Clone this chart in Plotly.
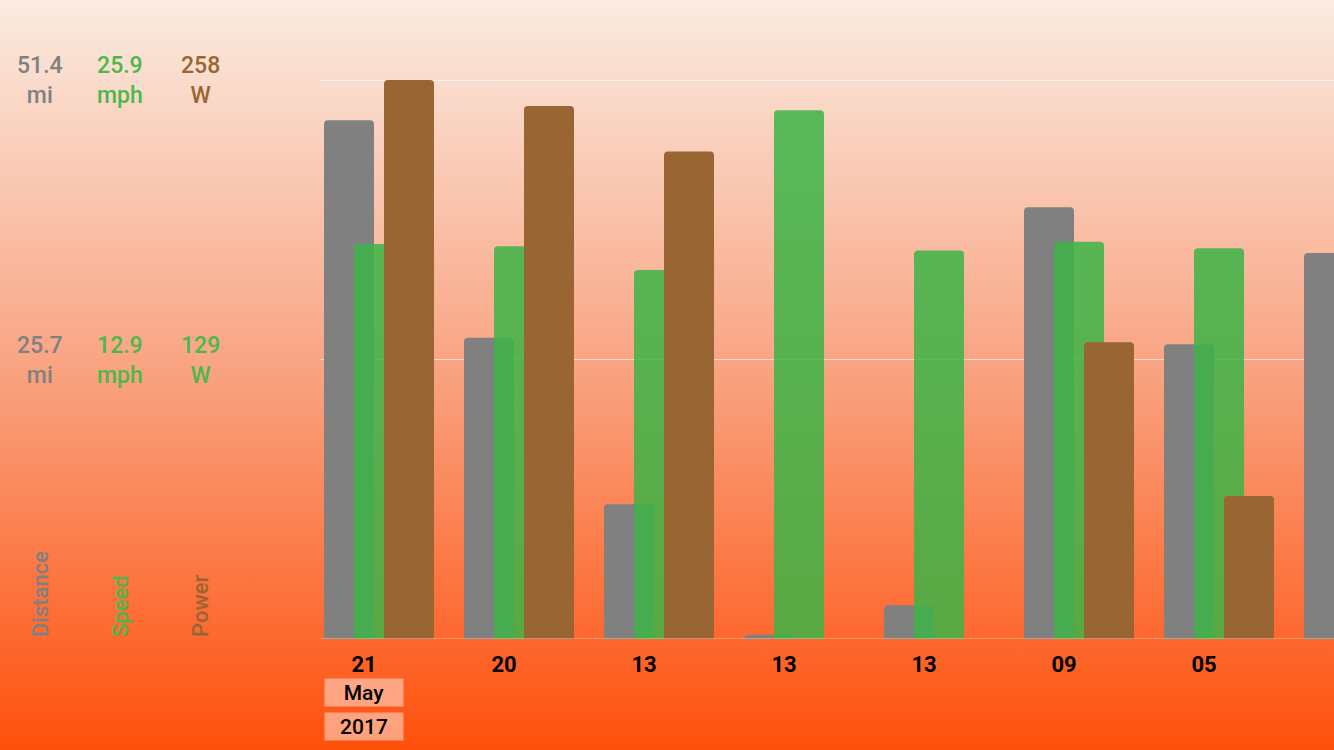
import plotly.graph_objects as go

days = ["21", "20", "13", "13", "13", "09", "05", "05"]
distance_mi = [47.7, 27.7, 12.4, 0.4, 3.1, 39.7, 27.1, 35.5]
speed_mph = [18.3, 18.2, 17.1, 24.5, 18.0, 18.4, 18.1, 18.0]
power_w = [258, 246, 225, 0, 0, 137, 66, 0]
max_dist, max_speed, max_power = 51.4, 25.9, 258
month_label = "May"
year_label = "2017"

GRAY = "#808080"
GREEN = "#4cb84c"
BROWN = "#996633"

n = len(days)
xs = list(range(n))
w = 50 / 140

fig = go.Figure()
fig.add_trace(go.Bar(x=xs, y=[v / max_dist for v in distance_mi], width=w, offset=0,
                     marker=dict(color=GRAY, cornerradius=4, line_width=0)))
fig.add_trace(go.Bar(x=xs, y=[v / max_speed for v in speed_mph], width=w, offset=30 / 140,
                     marker=dict(color="rgba(60,180,70,0.85)", cornerradius=4, line_width=0)))
fig.add_trace(go.Bar(x=xs, y=[v / max_power for v in power_w], width=w, offset=60 / 140,
                     marker=dict(color=BROWN, cornerradius=4, line_width=0)))

svg = ("data:image/svg+xml;utf8,<svg xmlns='http://www.w3.org/2000/svg' width='1334' height='750' "
       "preserveAspectRatio='none'><defs><linearGradient id='g' x1='0' y1='0' x2='0' y2='1'>"
       "<stop offset='0' stop-color='%23faebe1'/><stop offset='0.48' stop-color='%23f9a584'/>"
       "<stop offset='1' stop-color='%23ff500c'/></linearGradient></defs>"
       "<rect width='1334' height='750' fill='url(%23g)'/></svg>")

left0 = 320
pw = 1334 - left0
ph = 639


def px(x):
    return (x - left0) / pw


def py(y):
    return (ph - y) / ph


ann = []
for cx, col, mid_col, top, mid, name in [
    (40, GRAY, GRAY, "51.4<br>mi", "25.7<br>mi", "Distance"),
    (120, GREEN, GREEN, "25.9<br>mph", "12.9<br>mph", "Speed"),
    (200, BROWN, GREEN, "258<br>W", "129<br>W", "Power"),
]:
    ann.append(dict(x=px(cx), xref="paper", xanchor="center", y=py(80), yref="paper", text=top,
                    showarrow=False, font=dict(size=23, color=col, weight=500), yanchor="middle"))
    ann.append(dict(x=px(cx), xref="paper", xanchor="center", y=py(360), yref="paper", text=mid,
                    showarrow=False, font=dict(size=23, color=mid_col, weight=500),
                    yanchor="middle"))
    ann.append(dict(x=px(cx), xref="paper", xanchor="center", y=0, yref="paper", text=name,
                    showarrow=False, textangle=-90, font=dict(size=22, color=col, weight=500),
                    yanchor="bottom"))
for lab, y in [(month_label, 692), (year_label, 726)]:
    ann.append(dict(x=px(364), xref="paper", xanchor="center", y=py(y), yref="paper", text=lab,
                    showarrow=False, font=dict(size=21, color="black", weight=500),
                    bgcolor="rgba(255,255,255,0.45)", width=74, height=23, borderpad=2,
                    yanchor="middle"))

fig.add_hline(y=0, line_color="rgba(255,255,255,0.6)", line_width=1)

fig.update_layout(
    width=1334, height=750,
    margin=dict(l=left0, r=0, t=0, b=750 - ph),
    paper_bgcolor="rgba(0,0,0,0)", plot_bgcolor="rgba(0,0,0,0)",
    barmode="overlay", showlegend=False,
    font=dict(family="Roboto, Helvetica, Arial, sans-serif"),
    images=[dict(source=svg, xref="paper", yref="paper", x=-left0 / pw, y=1,
                 sizex=1334 / pw, sizey=750 / ph, xanchor="left", yanchor="top",
                 sizing="stretch", layer="below")],
    xaxis=dict(range=[-4 / 140, -4 / 140 + pw / 140], tickvals=[i + 40 / 140 for i in xs],
               ticktext=days, showgrid=False, zeroline=False,
               ticks="outside", ticklen=6, tickcolor="rgba(0,0,0,0)",
               tickfont=dict(size=22, color="black", weight="bold")),
    yaxis=dict(range=[0, ph / 559], tickvals=[0.5, 1], showticklabels=False,
               gridcolor="rgba(255,255,255,0.6)", gridwidth=1, zeroline=False),
    annotations=ann,
)
fig.write_html("out.html", config={"displayModeBar": False},
               post_script="document.body.style.margin='0';document.body.style.overflow='hidden';")
